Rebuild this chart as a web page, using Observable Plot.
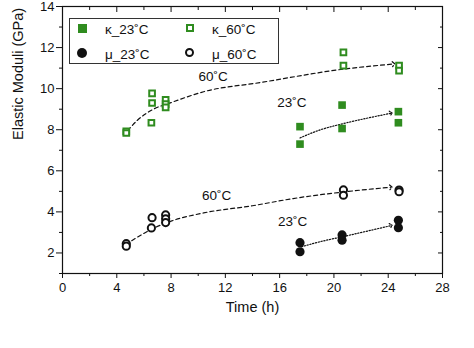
<!DOCTYPE html>
<html>
<head>
<meta charset="utf-8">
<script src="https://cdn.jsdelivr.net/npm/d3@7"></script>
<script src="https://cdn.jsdelivr.net/npm/@observablehq/plot@0.6"></script>
<style>
  html, body { margin: 0; padding: 0; background: #fff; }
  #wrap { position: relative; width: 474px; height: 348px; font-family: "Liberation Sans", Arial, sans-serif; }
  #legend { position: absolute; left: 69px; top: 18px; width: 210px; height: 46px; border: 1px solid #333; box-sizing: border-box; background: #fff; font-size: 13.5px; color: #111; }
  .sym { display: inline-block; box-sizing: border-box; }
  .lab { position: absolute; white-space: nowrap; }
</style>
</head>
<body>
<div id="wrap"></div>
<script>
const green = "#2f8c1f";

// Measured data (time in h, modulus in GPa)
const kappa23Time = [17.5, 17.5, 20.6, 20.6, 24.75, 24.75];
const kappa23Val  = [8.15, 7.30, 9.20, 8.06, 8.88, 8.34];

const kappa60Time = [4.7, 4.7, 6.6, 6.6, 6.55, 7.6, 7.6, 7.6, 20.7, 20.7, 24.8, 24.8];
const kappa60Val  = [7.92, 7.84, 9.77, 9.30, 8.34, 9.45, 9.25, 9.09, 11.77, 11.12, 11.12, 10.88];

const mu23Time = [17.5, 17.5, 20.6, 20.6, 24.75, 24.75];
const mu23Val  = [2.50, 2.06, 2.88, 2.62, 3.59, 3.23];

const mu60Time = [4.7, 4.7, 6.6, 6.55, 7.6, 7.6, 7.6, 20.7, 20.7, 24.8, 24.8];
const mu60Val  = [2.45, 2.33, 3.72, 3.22, 3.85, 3.66, 3.48, 5.07, 4.81, 5.06, 4.98];

// Trend curves
const fitK60Time = [4.8, 5.5, 6.7, 8.0, 10.4, 14.6, 20.7, 24.4];
const fitK60Val  = [7.95, 8.45, 9.0, 9.32, 9.85, 10.3, 10.95, 11.2];
const fitM60Time = [5.1, 6.7, 8.0, 10.4, 14.0, 17.0, 20.7, 24.2];
const fitM60Val  = [2.6, 3.2, 3.55, 3.95, 4.3, 4.65, 4.97, 5.2];
const fitK23Time = [17.5, 18.8, 20.7, 22.5, 24.2];
const fitK23Val  = [7.6, 7.95, 8.3, 8.57, 8.8];
const fitM23Time = [17.6, 19.0, 20.7, 22.5, 24.2];
const fitM23Val  = [2.3, 2.55, 2.8, 3.07, 3.33];

// Annotation labels
const noteText = ["60˚C", "23˚C", "60˚C", "23˚C"];
const noteTime = [11.1, 16.9, 11.35, 16.95];
const noteVal  = [10.59, 9.33, 4.78, 3.53];

// Axis ticks and titles
const xMajor = [0, 4, 8, 12, 16, 20, 24, 28];
const xMinor = [2, 6, 10, 14, 18, 22, 26];
const yMajor = [2, 4, 6, 8, 10, 12, 14];
const yMinor = [1, 3, 5, 7, 9, 11, 13];
const xTitle = "Time (h)";
const yTitle = "Elastic Moduli (GPa)";

// Legend
const legendLabels = ["κ_23˚C", "κ_60˚C", "μ_23˚C", "μ_60˚C"];

const zip = (t, v) => t.map((d, i) => ({t: d, v: v[i]}));
const k23 = zip(kappa23Time, kappa23Val);
const k60 = zip(kappa60Time, kappa60Val);
const m23 = zip(mu23Time, mu23Val);
const m60 = zip(mu60Time, mu60Val);
const notes = noteText.map((s, i) => ({s, t: noteTime[i], v: noteVal[i]}));

const fitStyle = (dash) => ({x: "t", y: "v", curve: "monotone-x", stroke: "#111", strokeWidth: 1.2, strokeDasharray: dash, markerEnd: "arrow"});

const chart = Plot.plot({
  width: 474,
  height: 348,
  marginLeft: 62,
  marginRight: 32,
  marginTop: 6,
  marginBottom: 75,
  style: {fontFamily: "Liberation Sans, Arial, sans-serif", fontSize: "13px", color: "#111", background: "#fff"},
  x: {domain: [0, 28]},
  y: {domain: [1, 14]},
  marks: [
    Plot.frame({stroke: "#111", strokeWidth: 1.2}),
    Plot.axisX(xMajor, {tickSize: 5, tickPadding: 4, fontSize: 13, label: null}),
    Plot.axisX(xMinor, {tickSize: 3, text: null, label: null}),
    Plot.axisX(xMajor, {anchor: "top", tickSize: -5, text: null, label: null}),
    Plot.axisX(xMinor, {anchor: "top", tickSize: -3, text: null, label: null}),
    Plot.axisY(yMajor, {tickSize: 6, tickPadding: 2, fontSize: 13, label: null}),
    Plot.axisY(yMinor, {tickSize: 3, text: null, label: null}),
    Plot.axisY(yMajor, {anchor: "right", tickSize: -5, text: null, label: null}),
    Plot.axisY(yMinor, {anchor: "right", tickSize: -3, text: null, label: null}),
    Plot.text([xTitle], {frameAnchor: "bottom", dy: 38, fontSize: 14.5, fill: "#111"}),
    Plot.text([yTitle], {frameAnchor: "left", dx: -44, rotate: -90, fontSize: 14.5, fill: "#111"}),
    Plot.line(zip(fitK60Time, fitK60Val), fitStyle("4,3")),
    Plot.line(zip(fitM60Time, fitM60Val), fitStyle("4,3")),
    Plot.line(zip(fitK23Time, fitK23Val), fitStyle("1.3,1.6")),
    Plot.line(zip(fitM23Time, fitM23Val), fitStyle("1.3,1.6")),
    Plot.dot(k23, {x: "t", y: "v", symbol: "square", r: 4.3, fill: green, stroke: "none"}),
    Plot.dot(k60, {x: "t", y: "v", symbol: "square", r: 3.2, fill: "white", stroke: green, strokeWidth: 2}),
    Plot.dot(m23, {x: "t", y: "v", symbol: "circle", r: 4.6, fill: "#111", stroke: "none"}),
    Plot.dot(m60, {x: "t", y: "v", symbol: "circle", r: 3.6, fill: "white", stroke: "#111", strokeWidth: 2}),
    Plot.text(notes, {x: "t", y: "v", text: "s", fontSize: 13.5, fill: "#111"})
  ]
});

const wrap = document.getElementById("wrap");
wrap.appendChild(chart);

// Legend overlay
const legend = document.createElement("div");
legend.id = "legend";
const pos = [[8, 5, 35, 3], [116, 5, 142, 3], [7, 29, 35, 28], [115, 29, 142, 28]];
const syms = [
  `width:9px;height:9px;background:${green};`,
  `width:8px;height:8px;border:2px solid ${green};background:#fff;`,
  `width:10px;height:10px;border-radius:50%;background:#111;`,
  `width:9px;height:9px;border-radius:50%;border:2px solid #111;background:#fff;`
];
legendLabels.forEach((lab, i) => {
  const s = document.createElement("span");
  s.className = "sym";
  s.style.cssText = syms[i] + `position:absolute;left:${pos[i][0]}px;top:${pos[i][1]}px;`;
  legend.appendChild(s);
  const t = document.createElement("span");
  t.className = "lab";
  t.textContent = lab;
  t.style.left = pos[i][2] + "px";
  t.style.top = pos[i][3] + "px";
  legend.appendChild(t);
});
wrap.appendChild(legend);
</script>
</body>
</html>
